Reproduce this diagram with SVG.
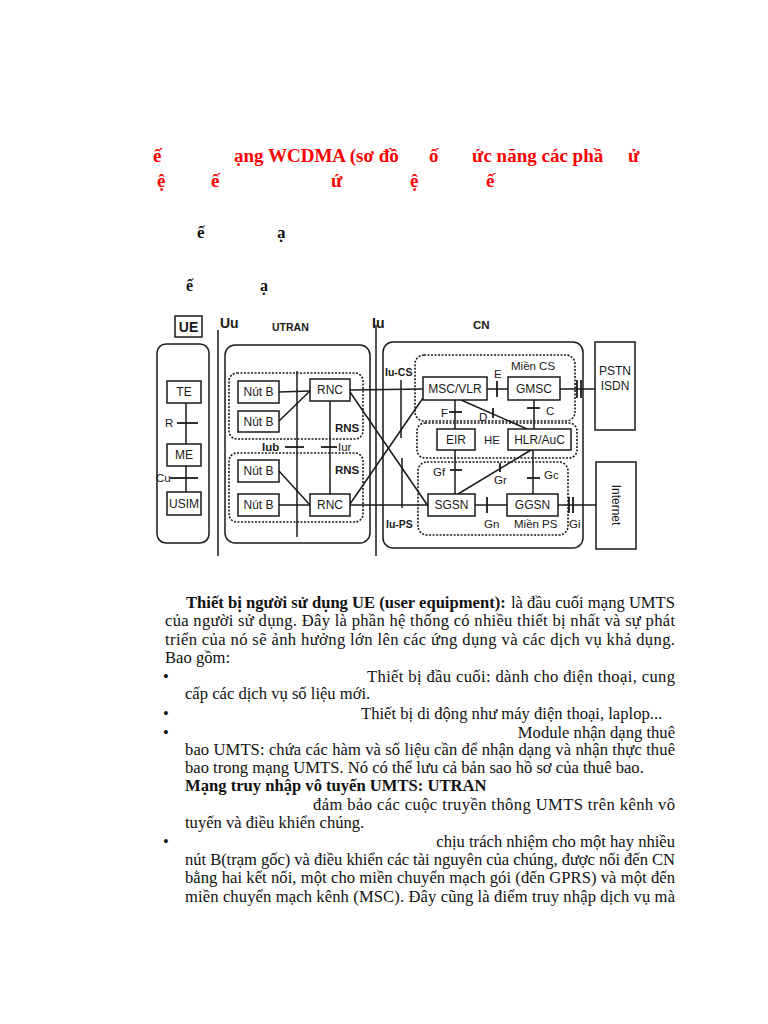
<svg xmlns="http://www.w3.org/2000/svg" width="768" height="1024" viewBox="0 0 768 1024">
<style>
.bg{fill:#fff}
.t{font-family:"Liberation Serif","Times New Roman",serif;font-size:16.6px;fill:#111}
.b{font-weight:bold}
.red{font-family:"Liberation Serif","Times New Roman",serif;font-size:19px;font-weight:bold;fill:#ff0000}
.blk{font-family:"Liberation Serif","Times New Roman",serif;font-weight:bold;fill:#111}
.box{fill:#fff;stroke:#1a1a1a;stroke-width:1.5}
.cont{fill:none;stroke:#1a1a1a;stroke-width:1.5}
.dash{fill:none;stroke:#1a1a1a;stroke-width:1.6;stroke-dasharray:2 1.5}
.ln{stroke:#1a1a1a;stroke-width:1.5;fill:none}
.tk{stroke:#1a1a1a;stroke-width:1.8;fill:none}
.lb{font-family:"Liberation Sans",Arial,sans-serif;font-size:12px;fill:#1a1a1a;text-anchor:middle}
.sm{font-family:"Liberation Sans",Arial,sans-serif;font-size:11.5px;fill:#1a1a1a}
.hd{font-family:"Liberation Sans",Arial,sans-serif;font-weight:bold;fill:#1a1a1a}
</style>
<rect class="bg" x="0" y="0" width="768" height="1024"/>

<g id="title">
<text class="red" x="153" y="162">ế</text>
<text class="red" x="234" y="162">ạng WCDMA (sơ đồ</text>
<text class="red" x="429" y="162">ố</text>
<text class="red" x="472" y="162">ức năng các phầ</text>
<text class="red" x="628" y="162">ử</text>
<text class="red" x="157" y="187">ệ</text>
<text class="red" x="211" y="187">ế</text>
<text class="red" x="331" y="187">ứ</text>
<text class="red" x="410" y="187">ệ</text>
<text class="red" x="486" y="187">ế</text>
<text class="blk" font-size="17" x="197" y="238">ế</text>
<text class="blk" font-size="17" x="277" y="238">ạ</text>
<text class="blk" font-size="16" x="186" y="291">ế</text>
<text class="blk" font-size="16" x="260" y="291">ạ</text>
</g>

<g id="hdr">
<rect class="box" x="175" y="316" width="27" height="21"/>
<text class="hd" font-size="14" x="188.5" y="332" text-anchor="middle">UE</text>
<text class="hd" font-size="14" x="220" y="328">Uu</text>
<text class="hd" font-size="10.5" x="272" y="331">UTRAN</text>
<text class="hd" font-size="14" x="372" y="328">Iu</text>
<text class="hd" font-size="11.5" x="473" y="329">CN</text>
</g>

<g id="ue-domain">
<rect class="cont" x="157" y="344" width="52" height="199" rx="9"/>
</g>
<g id="utran-domain">
<rect class="cont" x="225" y="345" width="145" height="198" rx="10"/>
<rect class="dash" x="229" y="373" width="134" height="66" rx="8"/>
<rect class="dash" x="229" y="453" width="134" height="69" rx="8"/>
<text class="hd" font-size="11.5" x="335" y="432">RNS</text>
<text class="hd" font-size="11.5" x="335" y="474">RNS</text>
</g>
<g id="cn-domain">
<rect class="cont" x="383" y="342" width="200" height="206" rx="10"/>
<rect class="dash" x="415" y="355" width="160" height="66" rx="9"/>
<rect class="dash" x="417" y="423" width="160" height="35" rx="8"/>
<rect class="dash" x="418" y="462" width="150" height="73" rx="9"/>
<text class="sm" x="511" y="370">Miền CS</text>
<text class="sm" x="484" y="444">HE</text>
<text class="sm" x="514" y="528">Miền PS</text>
</g>

<g id="connectors">
<line class="ln" x1="218" y1="330" x2="218" y2="556"/>
<line class="ln" x1="376" y1="325" x2="376" y2="556"/>
<line class="ln" x1="186" y1="403" x2="186" y2="444"/>
<line class="ln" x1="186" y1="466" x2="186" y2="492"/>
<line class="tk" x1="177" y1="423" x2="198" y2="423"/>
<line class="tk" x1="170" y1="478" x2="198" y2="478"/>
<text class="sm" font-size="12" x="165" y="427">R</text>
<text class="sm" font-size="12" x="156" y="482">Cu</text>
<line class="ln" x1="297" y1="371" x2="297" y2="537"/>
<line class="ln" x1="330" y1="401" x2="330" y2="494"/>
<line class="tk" x1="285" y1="447" x2="304" y2="447"/>
<line class="tk" x1="321" y1="447" x2="337" y2="447"/>
<text class="hd" font-size="11.5" x="262" y="451">Iub</text>
<text class="sm" font-size="12" x="338" y="451">Iur</text>
<line class="ln" x1="279" y1="392" x2="310" y2="391"/>
<line class="ln" x1="279" y1="421" x2="310" y2="391"/>
<line class="ln" x1="279" y1="471" x2="310" y2="505"/>
<line class="ln" x1="279" y1="505" x2="310" y2="505"/>
<line class="ln" x1="350" y1="390" x2="423" y2="389"/>
<line class="ln" x1="350" y1="392" x2="428" y2="506"/>
<line class="ln" x1="350" y1="504" x2="423" y2="398"/>
<line class="ln" x1="350" y1="505" x2="428" y2="505"/>
<line class="ln" x1="401" y1="380" x2="401" y2="438"/>
<line class="ln" x1="402" y1="458" x2="402" y2="508"/>
<text class="hd" font-size="10.5" x="385" y="376">Iu-CS</text>
<text class="hd" font-size="10.5" x="386" y="528">Iu-PS</text>
<line class="ln" x1="487" y1="389" x2="508" y2="389"/>
<line class="tk" x1="497" y1="381" x2="497" y2="397"/>
<text class="sm" x="494" y="378">E</text>
<line class="ln" x1="560" y1="389" x2="595" y2="389"/>
<line class="tk" x1="577" y1="380" x2="577" y2="398"/>
<line class="tk" x1="581" y1="380" x2="581" y2="398"/>
<line class="ln" x1="534" y1="400" x2="534" y2="429"/>
<line class="tk" x1="527" y1="408" x2="540" y2="408"/>
<text class="sm" x="546" y="415">C</text>
<line class="ln" x1="455" y1="400" x2="455" y2="429"/>
<line class="tk" x1="449" y1="412" x2="462" y2="412"/>
<text class="sm" x="441" y="417">F</text>
<line class="ln" x1="461" y1="400" x2="527" y2="429"/>
<line class="tk" x1="493" y1="408" x2="493" y2="418"/>
<text class="sm" x="479" y="421">D</text>
<line class="ln" x1="455" y1="450" x2="455" y2="494"/>
<line class="tk" x1="450" y1="470" x2="462" y2="470"/>
<text class="sm" x="433" y="476">Gf</text>
<line class="ln" x1="533" y1="450" x2="533" y2="494"/>
<line class="tk" x1="527" y1="478" x2="540" y2="478"/>
<text class="sm" x="544" y="479">Gc</text>
<line class="ln" x1="531" y1="450" x2="458" y2="494"/>
<line class="tk" x1="500" y1="463" x2="500" y2="472"/>
<text class="sm" x="494" y="484">Gr</text>
<line class="ln" x1="475" y1="505" x2="507" y2="505"/>
<line class="tk" x1="487" y1="497" x2="487" y2="513"/>
<text class="sm" x="484" y="528">Gn</text>
<line class="ln" x1="558" y1="505" x2="596" y2="505"/>
<line class="tk" x1="569" y1="497" x2="569" y2="513"/>
<line class="tk" x1="573" y1="497" x2="573" y2="513"/>
<text class="sm" x="569" y="528">Gi</text>
</g>

<g id="TE"><rect class="box" x="167" y="381" width="34" height="22"/><text class="lb" x="184" y="396">TE</text></g>
<g id="ME"><rect class="box" x="167" y="444" width="34" height="22"/><text class="lb" x="184" y="459">ME</text></g>
<g id="USIM"><rect class="box" x="167" y="492" width="34" height="23"/><text class="lb" x="184" y="508" font-size="11.5">USIM</text></g>
<g id="NutB1"><rect class="box" x="238" y="381" width="41" height="22"/><text class="lb" x="258.5" y="396">Nút B</text></g>
<g id="NutB2"><rect class="box" x="238" y="411" width="41" height="21"/><text class="lb" x="258.5" y="426">Nút B</text></g>
<g id="NutB3"><rect class="box" x="238" y="460" width="41" height="22"/><text class="lb" x="258.5" y="475">Nút B</text></g>
<g id="NutB4"><rect class="box" x="238" y="494" width="41" height="22"/><text class="lb" x="258.5" y="509">Nút B</text></g>
<g id="RNC1"><rect class="box" x="310" y="379" width="40" height="22"/><text class="lb" x="330" y="394">RNC</text></g>
<g id="RNC2"><rect class="box" x="310" y="494" width="40" height="22"/><text class="lb" x="330" y="509">RNC</text></g>
<g id="MSCVLR"><rect class="box" x="423" y="377" width="64" height="23"/><text class="lb" x="455" y="393">MSC/VLR</text></g>
<g id="GMSC"><rect class="box" x="508" y="377" width="52" height="23"/><text class="lb" x="534" y="393">GMSC</text></g>
<g id="EIR"><rect class="box" x="437" y="429" width="38" height="21"/><text class="lb" x="456" y="444">EIR</text></g>
<g id="HLRAuC"><rect class="box" x="508" y="429" width="63" height="21"/><text class="lb" x="539.5" y="444">HLR/AuC</text></g>
<g id="SGSN"><rect class="box" x="428" y="494" width="47" height="22"/><text class="lb" x="451.5" y="509">SGSN</text></g>
<g id="GGSN"><rect class="box" x="507" y="494" width="51" height="22"/><text class="lb" x="532.5" y="509">GGSN</text></g>
<g id="PSTN"><rect class="box" x="595" y="342" width="40" height="88"/><text class="lb" x="615" y="375">PSTN</text><text class="lb" x="615" y="390">ISDN</text></g>
<g id="Internet"><rect class="box" x="596" y="462" width="40" height="87"/><text class="lb" transform="translate(612,505) rotate(90)" x="0" y="0">Internet</text></g>

<g id="body">
<text class="t b" x="186" y="608">Thiết bị người sử dụng UE (user equipment):</text>
<text class="t" x="675" y="608" text-anchor="end">là đầu cuối mạng UMTS</text>
<text class="t" x="165" y="626" textLength="510" lengthAdjust="spacing">của người sử dụng. Đây là phần hệ thống có nhiều thiết bị nhất và sự phát</text>
<text class="t" x="165" y="645" textLength="510" lengthAdjust="spacing">triển của nó sẽ ảnh hưởng lớn lên các ứng dụng và các dịch vụ khả dụng.</text>
<text class="t" x="165" y="663">Bao gồm:</text>
<text class="t" x="163" y="682">•</text>
<text class="t" x="367" y="682" textLength="308" lengthAdjust="spacing">Thiết bị đầu cuối: dành cho điện thoại, cung</text>
<text class="t" x="185" y="699">cấp các dịch vụ số liệu mới.</text>
<text class="t" x="163" y="719">•</text>
<text class="t" x="361" y="719">Thiết bị di động như máy điện thoại, laplop...</text>
<text class="t" x="163" y="738">•</text>
<text class="t" x="675" y="738" text-anchor="end">Module nhận dạng thuê</text>
<text class="t" x="185" y="755" textLength="490" lengthAdjust="spacing">bao UMTS: chứa các hàm và số liệu cần để nhận dạng và nhận thực thuê</text>
<text class="t" x="185" y="773">bao trong mạng UMTS. Nó có thể lưu cả bản sao hồ sơ của thuê bao.</text>
<text class="t b" x="185" y="791">Mạng truy nhập vô tuyến UMTS: UTRAN</text>
<text class="t" x="313" y="810" textLength="362" lengthAdjust="spacing">đảm bảo các cuộc truyền thông UMTS trên kênh vô</text>
<text class="t" x="185" y="828">tuyến và điều khiển chúng.</text>
<text class="t" x="163" y="847">•</text>
<text class="t" x="675" y="847" text-anchor="end">chịu trách nhiệm cho một hay nhiều</text>
<text class="t" x="185" y="865" textLength="490" lengthAdjust="spacing">nút B(trạm gốc) và điều khiển các tài nguyên của chúng, được nối đến CN</text>
<text class="t" x="185" y="883" textLength="490" lengthAdjust="spacing">bằng hai kết nối, một cho miền chuyển mạch gói (đến GPRS) và một đến</text>
<text class="t" x="185" y="902" textLength="490" lengthAdjust="spacing">miền chuyển mạch kênh (MSC). Đây cũng là điểm truy nhập dịch vụ mà</text>
</g>
</svg>
